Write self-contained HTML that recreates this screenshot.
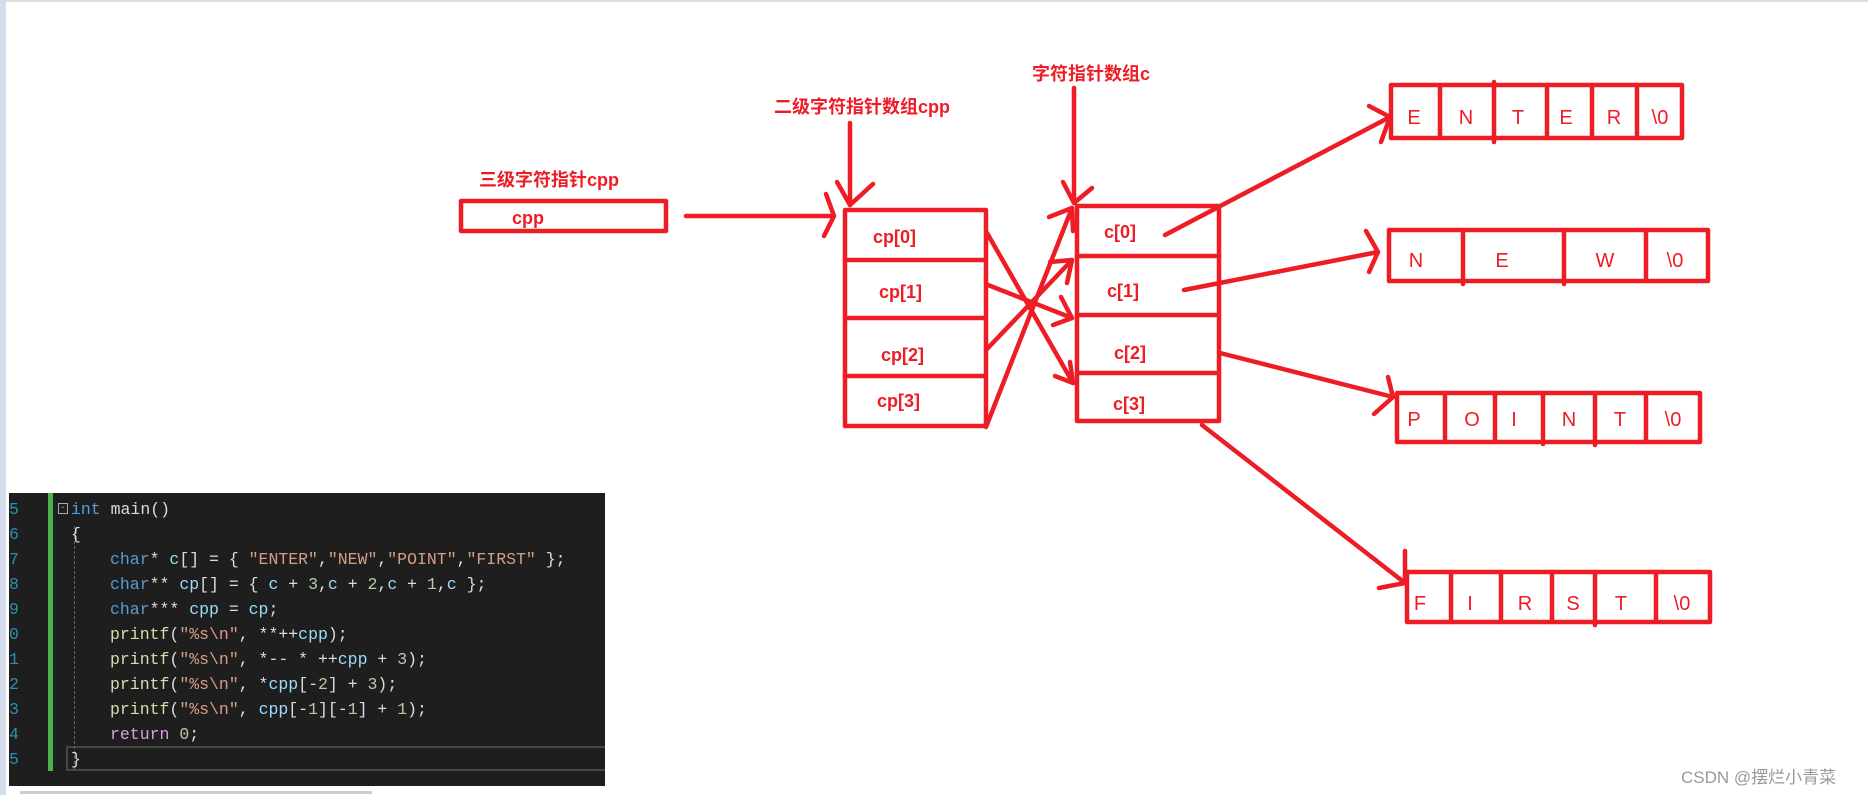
<!DOCTYPE html>
<html><head><meta charset="utf-8"><style>
html,body{margin:0;padding:0;background:#fff}
body{width:1868px;height:795px;overflow:hidden;position:relative}
svg{position:absolute;left:0;top:0}
.code{position:absolute;left:9px;top:493px;width:596px;height:293px;background:#1e1e1e;font-family:"Liberation Mono",monospace;font-size:16.5px;color:#dcdcdc}
.ln{position:absolute;left:0;color:#2b91af;}
.l{position:absolute;white-space:pre;height:25px;line-height:25px}
.k{color:#569cd6}.v{color:#9cdcfe}.s{color:#d69d85}.f{color:#dcdcaa}.r{color:#d8a0df}.n{color:#b5cea8}
</style></head><body>
<svg width="1868" height="795" viewBox="0 0 1868 795" font-family="Liberation Sans, Noto Sans CJK SC, sans-serif">
<rect x="0" y="0" width="1868" height="2" fill="#dcdcdc"/>
<rect x="0" y="0" width="6" height="795" fill="#d4dceb"/>
<rect x="20" y="791" width="352" height="3" fill="#cccccc"/>
<g stroke="#ee1c24" stroke-width="4.5" fill="none" stroke-linecap="round" stroke-linejoin="round">
<!-- cpp box -->
<rect x="461" y="201" width="205" height="30"/>
<line x1="686" y1="216" x2="834" y2="216"/>
<polyline points="826,194 834,216 824,236"/>
<!-- cp box -->
<rect x="845" y="210" width="141" height="216"/>
<line x1="845" y1="260" x2="986" y2="260"/>
<line x1="845" y1="318" x2="986" y2="318"/>
<line x1="845" y1="376" x2="986" y2="376"/>
<line x1="850" y1="123" x2="850" y2="205"/>
<polyline points="837,182 850,205 873,184"/>
<!-- c box -->
<rect x="1077" y="206" width="142" height="215"/>
<line x1="1077" y1="256" x2="1219" y2="256"/>
<line x1="1077" y1="315" x2="1219" y2="315"/>
<line x1="1077" y1="373" x2="1219" y2="373"/>
<line x1="1074" y1="88" x2="1074" y2="203"/>
<polyline points="1063,182 1074,203 1092,188"/>
<!-- crossing -->
<line x1="987" y1="233" x2="1073" y2="383"/>
<polyline points="1055,376 1073,383 1070,362"/>
<line x1="988" y1="285" x2="1072" y2="318"/>
<polyline points="1061,297 1072,318 1053,325"/>
<line x1="986" y1="350" x2="1072" y2="260"/>
<polyline points="1050,262 1072,260 1067,283"/>
<line x1="986" y1="427" x2="1072" y2="208"/>
<polyline points="1049,217 1072,208 1073,231"/>
<!-- to strings -->
<line x1="1165" y1="235" x2="1390" y2="117"/>
<polyline points="1369,106 1390,117 1381,142"/>
<line x1="1184" y1="290" x2="1378" y2="252"/>
<polyline points="1366,231 1378,252 1369,272"/>
<line x1="1220" y1="353" x2="1393" y2="397"/>
<polyline points="1388,377 1393,397 1374,414"/>
<line x1="1202" y1="425" x2="1405" y2="583"/>
<polyline points="1405,551 1405,583 1379,588"/>
<!-- ENTER -->
<rect x="1391" y="85" width="291" height="53"/>
<line x1="1440" y1="85" x2="1440" y2="138"/><line x1="1494" y1="82" x2="1494" y2="142"/><line x1="1547" y1="85" x2="1547" y2="138"/><line x1="1592" y1="85" x2="1592" y2="138"/><line x1="1637" y1="85" x2="1637" y2="138"/>
<!-- NEW -->
<rect x="1389" y="230" width="319" height="51"/>
<line x1="1463" y1="230" x2="1463" y2="284"/><line x1="1564" y1="230" x2="1564" y2="284"/><line x1="1646" y1="230" x2="1646" y2="281"/>
<!-- POINT -->
<rect x="1397" y="393" width="303" height="49"/>
<line x1="1445" y1="393" x2="1445" y2="442"/><line x1="1495" y1="393" x2="1495" y2="442"/><line x1="1543" y1="393" x2="1543" y2="444"/><line x1="1595" y1="393" x2="1595" y2="445"/><line x1="1646" y1="393" x2="1646" y2="442"/>
<!-- FIRST -->
<rect x="1407" y="572" width="303" height="50"/>
<line x1="1451" y1="572" x2="1451" y2="622"/><line x1="1501" y1="572" x2="1501" y2="622"/><line x1="1552" y1="572" x2="1552" y2="622"/><line x1="1595" y1="572" x2="1595" y2="625"/><line x1="1656" y1="572" x2="1656" y2="622"/>
</g>
<g fill="#ee1c24" font-weight="bold" font-size="18" font-family="Liberation Sans, Noto Sans CJK SC, sans-serif">
<text x="479" y="186">三级字符指针cpp</text>
<text x="774" y="113">二级字符指针数组cpp</text>
<text x="1032" y="80">字符指针数组c</text>
<text x="512" y="224">cpp</text>
<text x="873" y="243">cp[0]</text>
<text x="879" y="298">cp[1]</text>
<text x="881" y="361">cp[2]</text>
<text x="877" y="407">cp[3]</text>
<text x="1104" y="238">c[0]</text>
<text x="1107" y="297">c[1]</text>
<text x="1114" y="359">c[2]</text>
<text x="1113" y="410">c[3]</text>
</g>
<g fill="#ee1c24" font-size="20" text-anchor="middle">
<text x="1414" y="124">E</text><text x="1466" y="124">N</text><text x="1518" y="124">T</text><text x="1566" y="124">E</text><text x="1614" y="124">R</text><text x="1660" y="124">\0</text>
<text x="1416" y="267">N</text><text x="1502" y="267">E</text><text x="1605" y="267">W</text><text x="1675" y="267">\0</text>
<text x="1414" y="426">P</text><text x="1472" y="426">O</text><text x="1514" y="426">I</text><text x="1569" y="426">N</text><text x="1620" y="426">T</text><text x="1673" y="426">\0</text>
<text x="1420" y="610">F</text><text x="1470" y="610">I</text><text x="1525" y="610">R</text><text x="1573" y="610">S</text><text x="1621" y="610">T</text><text x="1682" y="610">\0</text>
</g>
<text x="1681" y="783" font-size="17" fill="#999" font-family="Liberation Sans, Noto Sans CJK SC, sans-serif">CSDN @摆烂小青菜</text>
</svg>
<div class="code">
<div style="position:absolute;left:39px;top:0;width:5px;height:278px;background:#4caf50"></div>
<div style="position:absolute;left:57px;top:253px;right:0;height:21px;border:2px solid #464646;border-right:none"></div>
<div style="position:absolute;left:65px;top:33px;height:243px;border-left:1px dashed #666"></div>
<div style="position:absolute;left:49px;top:10px;width:8px;height:9px;border:1px solid #aaa;font-size:9px;line-height:8px;text-align:center;color:#aaa">-</div>
<div class="ln" style="top:4px;line-height:25px">5<br>6<br>7<br>8<br>9<br>0<br>1<br>2<br>3<br>4<br>5</div>
<div class="l" style="left:62px;top:4px"><span class="k">int</span> main()</div>
<div class="l" style="left:62px;top:29px">{</div>
<div class="l" style="left:101px;top:54px"><span class="k">char</span>* <span class="v">c</span>[] = { <span class="s">"ENTER"</span>,<span class="s">"NEW"</span>,<span class="s">"POINT"</span>,<span class="s">"FIRST"</span> };</div>
<div class="l" style="left:101px;top:79px"><span class="k">char</span>** <span class="v">cp</span>[] = { <span class="v">c</span> + <span class="n">3</span>,<span class="v">c</span> + <span class="n">2</span>,<span class="v">c</span> + <span class="n">1</span>,<span class="v">c</span> };</div>
<div class="l" style="left:101px;top:104px"><span class="k">char</span>*** <span class="v">cpp</span> = <span class="v">cp</span>;</div>
<div class="l" style="left:101px;top:129px"><span class="f">printf</span>(<span class="s">"%s\n"</span>, **++<span class="v">cpp</span>);</div>
<div class="l" style="left:101px;top:154px"><span class="f">printf</span>(<span class="s">"%s\n"</span>, *-- * ++<span class="v">cpp</span> + <span class="n">3</span>);</div>
<div class="l" style="left:101px;top:179px"><span class="f">printf</span>(<span class="s">"%s\n"</span>, *<span class="v">cpp</span>[-<span class="n">2</span>] + <span class="n">3</span>);</div>
<div class="l" style="left:101px;top:204px"><span class="f">printf</span>(<span class="s">"%s\n"</span>, <span class="v">cpp</span>[-<span class="n">1</span>][-<span class="n">1</span>] + <span class="n">1</span>);</div>
<div class="l" style="left:101px;top:229px"><span class="r">return</span> <span class="n">0</span>;</div>
<div class="l" style="left:62px;top:254px">}</div>
</div>
</body></html>
